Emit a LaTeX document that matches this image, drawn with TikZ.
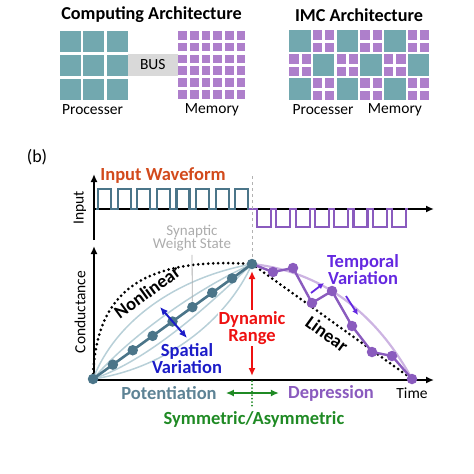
\documentclass[tikz,border=0pt]{standalone}
\usepackage{fontspec}
\setmainfont{Carlito}
\usetikzlibrary{arrows.meta}

\definecolor{procteal}{HTML}{72A8AF}
\definecolor{mempurple}{HTML}{AE7FCB}
\definecolor{busgray}{HTML}{D9D9D9}
\definecolor{potblue}{HTML}{4B7589}
\definecolor{deppurple}{HTML}{8A5BBE}
\definecolor{waveorange}{HTML}{D24A1C}
\definecolor{rangered}{HTML}{EE1111}
\definecolor{spatblue}{HTML}{1C1CC8}
\definecolor{tempviolet}{HTML}{6428E0}
\definecolor{symgreen}{HTML}{1F8A24}
\definecolor{lightpot}{HTML}{B8D0D8}
\definecolor{lightdep}{HTML}{CDB4E2}

\tikzset{
    title/.style={font=\fontsize{18.2}{18}\selectfont\bfseries},
    label/.style={font=\fontsize{15.5}{16}\selectfont},
    note/.style={font=\fontsize{18.5}{17}\selectfont\bfseries, align=center, inner sep=1pt},
    axis/.style={line width=1.6, -{Latex[length=8,width=7]}},
    dot/.style={circle, inner sep=0, minimum size=10.5},
    twohead/.style={line width=2, {Latex[length=8,width=7]}-{Latex[length=8,width=7]}},
    onehead/.style={line width=1.8, -{Latex[length=6,width=6]}},
    bigdots/.style={line width=3, line cap=round, dash pattern=on 0pt off 5pt}
}

\begin{document}
\begin{tikzpicture}[x=1pt, y=-1pt]
    \useasboundingbox (0,0) rectangle (474,474);

    % Computing Architecture
    \node[title] (comptitle) at (151.5,15) {Computing Architecture};
    \foreach \i in {0,1,2}
        \foreach \j in {0,1,2}
            \fill[procteal] ({59.5+23.8*\i},{31+23.8*\j}) rectangle ++(21,21);
    \node[fill=busgray, minimum width=50, minimum height=21.5, inner sep=0, label] (bus) at (152.8,65) {BUS};
    \foreach \i in {0,...,5}
        \foreach \j in {0,...,5}
            \fill[mempurple] ({178.3+11.7*\i},{31+11.8*\j}) rectangle ++(8.6,8.6);
    \node[label] (proclab) at (92.5,110) {Processer};
    \node[label] (memlab) at (212,110) {Memory};

    % IMC Architecture
    \node[title] (imctitle) at (359,15) {IMC Architecture};
    \foreach \c in {0,...,5}
        \foreach \r in {0,1,2} {
            \pgfmathtruncatemacro\odd{mod(\c+\r,2)}
            \ifnum\odd=0
                \fill[procteal] ({289.3+23.7*\c},{30.3+24*\r}) rectangle ++(21.4,21.4);
            \else
                \foreach \a/\b in {0/0, 12.2/0, 0/12.2, 12.2/12.2}
                    \fill[mempurple] ({289.3+23.7*\c+\a},{30.3+24*\r+\b}) rectangle ++(9.2,9.2);
            \fi
        }
    \node[label] (imcproc) at (323,110) {Processer};
    \node[label] (imcmem) at (395,110) {Memory};

    % (b) axes
    \node[font=\fontsize{18}{18}\selectfont] (blabel) at (37,157) {(b)};
    \coordinate (inbot) at (94,240);
    \coordinate (intop) at (94,174);
    \coordinate (inorig) at (94,209);
    \coordinate (inend) at (434,209);
    \coordinate (orig) at (94,380);
    \coordinate (ctop) at (94,246);
    \coordinate (tend) at (434,380);
    \draw[axis] (inbot) -- (intop);
    \draw[axis] (inorig) -- (inend);
    \draw[axis] (orig) -- (ctop);
    \draw[axis] (orig) -- (tend);
    \node[label, rotate=90] (inlab) at (80,208) {Input};
    \node[label, rotate=90] (condlab) at (80,312) {Conductance};

    % Input Waveform
    \draw[potblue, line width=2.2] (96,209) \foreach \k in {0,...,7} { -- ({98+19.6*\k},209) -- ++(0,-20) -- ++(13,0) -- ++(0,20) } -- (249,209);
    \draw[deppurple, line width=2.2] (249,209) \foreach \k in {0,...,7} { -- ({257+19.3*\k},209) -- ++(0,18) -- ++(14,0) -- ++(0,-18) } -- (408,209);
    \node[note, text=waveorange] (wavelab) at (163,176) {Input Waveform};

    % weight states
    \foreach \i in {0,...,8}
        \coordinate (p\i) at ({93+19.875*\i},{379-14.375*\i});
    \foreach \xx/\yy [count=\i] in {273/272, 293/268, 312/303, 332/291, 352/326, 372/352, 392/356, 412/379}
        \coordinate (d\i) at (\xx,\yy);
    \coordinate (dashtop) at (252,176);
    \draw[gray!60, dashed, line width=0.8] (dashtop) -- (p8);

    % Spatial variation curves
    \draw[lightpot, line width=1.5] (p0) .. controls (115,322) and (175,278) .. (p8);
    \draw[lightpot, line width=1.5] (p0) .. controls (130,336) and (198,288) .. (p8);
    \draw[lightpot, line width=1.5] (p0) .. controls (150,360) and (212,302) .. (p8);
    \draw[lightpot, line width=1.5] (p0) .. controls (168,368) and (228,318) .. (p8);
    \draw[lightdep, line width=2.2] (p8) .. controls (310,270) and (370,302) .. (d8);

    % Nonlinear / Linear
    \draw[bigdots] (p0) .. controls (95,292) and (142,257) .. (p8);
    \draw[bigdots] (p8) -- (d8);
    \node[note, rotate=36] (nonlin) at (147,292) {Nonlinear};
    \node[note, rotate=-36] (lin) at (327,334) {Linear};

    % Potentiation and depression
    \draw[potblue, line width=2.6] (p0) \foreach \i in {1,...,8} { -- (p\i) };
    \draw[deppurple, line width=2.4] (p8) \foreach \i in {1,...,8} { -- (d\i) };
    \foreach \i in {0,...,8}
        \node[dot, fill=potblue] (pdot\i) at (p\i) {};
    \foreach \i in {1,...,8}
        \node[dot, fill=deppurple] (ddot\i) at (d\i) {};

    % Synaptic weight state
    \node[font=\fontsize{15}{13.5}\selectfont, text=gray!65, align=center] (synlab) at (192,238) {Synaptic\\Weight State};
    \draw[gray!65, line width=0.8] (synlab.south) -- (pdot5);

    % Spatial Variation
    \coordinate (sa1) at (160,307);
    \coordinate (sa2) at (187,338);
    \draw[twohead, spatblue] (sa1) -- (sa2);
    \node[note, text=spatblue] (spat) at (187,359) {Spatial\\Variation};

    % Dynamic Range
    \coordinate (drtop) at (252,271);
    \coordinate (drbot) at (252,376);
    \draw[twohead, rangered] (drtop) -- (drbot);
    \node[note, text=rangered, fill=white] (range) at (252,328) {Dynamic\\Range};

    % Temporal Variation
    \node[note, text=tempviolet] (temp) at (363,270) {Temporal\\Variation};
    \coordinate (ta1) at (311,293);
    \coordinate (ta2) at (324,283);
    \coordinate (tb1) at (346,296);
    \coordinate (tb2) at (358,315);
    \draw[onehead, tempviolet] (ta1) -- (ta2);
    \draw[onehead, tempviolet] (tb1) -- (tb2);

    % bottom labels
    \node[note, text=potblue!90!white] (potlab) at (169,393) {Potentiation};
    \node[note, text=deppurple] (deplab) at (331,393) {Depression};
    \node[label] (timelab) at (412,393) {Time};
    \draw[twohead, symgreen, shorten <=8, shorten >=8] (potlab.east) -- (deplab.west);
    \coordinate (gtop) at (252,381);
    \coordinate (gbot) at (252,406);
    \draw[symgreen, line width=2, line cap=round, dash pattern=on 0pt off 3.5pt] (gtop) -- (gbot);
    \node[note, text=symgreen] (symlab) at (254,419) {Symmetric/Asymmetric};
\end{tikzpicture}
\end{document}
